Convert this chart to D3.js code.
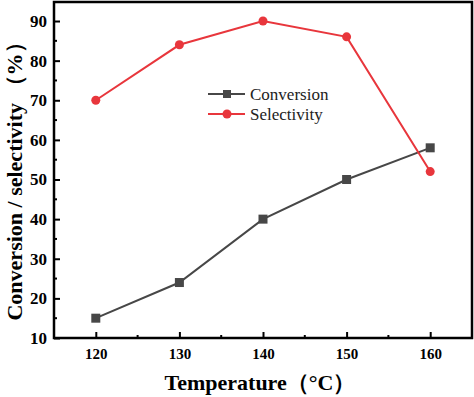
<!DOCTYPE html>
<html>
<head>
<meta charset="utf-8">
<script src="https://cdn.jsdelivr.net/npm/d3@7"></script>
<style>
  body { margin: 0; background: #fff; }
  svg { display: block; }
  text { font-family: "Liberation Serif", "Times New Roman", serif; }
</style>
</head>
<body>
<svg id="chart"></svg>
<script>
// data
var temperatures = [120, 130, 140, 150, 160];
var conversion = [15, 24, 40, 50, 58];
var selectivity = [70, 84, 90, 86, 52];
var seriesNames = ["Conversion", "Selectivity"];
var xTicks = [120, 130, 140, 150, 160];
var yTicks = [10, 20, 30, 40, 50, 60, 70, 80, 90];

var width = 474, height = 397;
var plotLeft = 54, plotRight = 472, plotTop = 2, plotBottom = 338;

var svg = d3.select("#chart").attr("width", width).attr("height", height);

var x = d3.scaleLinear().domain([115, 165]).range([plotLeft, plotRight]);
var y = d3.scaleLinear().domain([10, 94.8]).range([plotBottom, plotTop]);

// axes: ticks pointing inwards
var xAxis = d3.axisBottom(x).tickValues(xTicks).tickSize(-6).tickPadding(10).tickFormat(d3.format("d"));
var yAxis = d3.axisLeft(y).tickValues(yTicks).tickSize(-6).tickPadding(7).tickFormat(d3.format("d"));

var gx = svg.append("g").attr("transform", "translate(0," + plotBottom + ")").call(xAxis);
var gy = svg.append("g").attr("transform", "translate(" + plotLeft + ",0)").call(yAxis);

[gx, gy].forEach(function (g) {
  g.select(".domain").remove();
  g.selectAll(".tick line").attr("stroke", "#000").attr("stroke-width", 2);
  g.selectAll(".tick text")
    .attr("fill", "#000")
    .style("font-weight", "bold");
});
gx.selectAll(".tick text").style("font-size", "15px");
gy.selectAll(".tick text").style("font-size", "17px");

// minor ticks
var xMinor = [125, 135, 145, 155];
var yMinor = [15, 25, 35, 45, 55, 65, 75, 85];
svg.selectAll(".xminor").data(xMinor).enter().append("line")
  .attr("x1", function (d) { return x(d); }).attr("x2", function (d) { return x(d); })
  .attr("y1", plotBottom).attr("y2", plotBottom - 3)
  .attr("stroke", "#000").attr("stroke-width", 2);
svg.selectAll(".yminor").data(yMinor).enter().append("line")
  .attr("x1", plotLeft).attr("x2", plotLeft + 3)
  .attr("y1", function (d) { return y(d); }).attr("y2", function (d) { return y(d); })
  .attr("stroke", "#000").attr("stroke-width", 2);

// frame
svg.append("rect")
  .attr("x", plotLeft).attr("y", plotTop)
  .attr("width", plotRight - plotLeft).attr("height", plotBottom - plotTop)
  .attr("fill", "none").attr("stroke", "#000").attr("stroke-width", 2.5);

var colors = ["#474747", "#e8363c"];

var line = d3.line()
  .x(function (d, i) { return x(temperatures[i]); })
  .y(function (d) { return y(d); });

// conversion
svg.append("path").datum(conversion)
  .attr("d", line).attr("fill", "none")
  .attr("stroke", colors[0]).attr("stroke-width", 2);
svg.selectAll(".sq").data(conversion).enter().append("rect")
  .attr("x", function (d, i) { return x(temperatures[i]) - 4.5; })
  .attr("y", function (d) { return y(d) - 4.5; })
  .attr("width", 9).attr("height", 9)
  .attr("fill", colors[0]);

// selectivity
svg.append("path").datum(selectivity)
  .attr("d", line).attr("fill", "none")
  .attr("stroke", colors[1]).attr("stroke-width", 2);
svg.selectAll(".dot").data(selectivity).enter().append("circle")
  .attr("cx", function (d, i) { return x(temperatures[i]); })
  .attr("cy", function (d) { return y(d); })
  .attr("r", 4.5)
  .attr("fill", colors[1]);

// legend
var legend = svg.append("g").attr("transform", "translate(208,94)");
seriesNames.forEach(function (name, i) {
  var g = legend.append("g").attr("transform", "translate(0," + (i * 20) + ")");
  g.append("line").attr("x1", 0).attr("x2", 37).attr("y1", 0).attr("y2", 0)
    .attr("stroke", colors[i]).attr("stroke-width", 2);
  if (i === 0) {
    g.append("rect").attr("x", 15).attr("y", -4).attr("width", 8).attr("height", 8).attr("fill", colors[i]);
  } else {
    g.append("circle").attr("cx", 19).attr("cy", 0).attr("r", 4.5).attr("fill", colors[i]);
  }
  g.append("text").attr("x", 42).attr("y", 5.5)
    .style("font-size", "17px").attr("fill", "#222").text(name);
});

// axis titles
svg.append("text")
  .attr("x", (plotLeft + plotRight) / 2 - 3).attr("y", 390)
  .attr("text-anchor", "middle")
  .style("font-size", "22px").style("font-weight", "bold")
  .text("Temperature（°C）");

svg.append("text")
  .attr("transform", "translate(22,176) rotate(-90)")
  .attr("text-anchor", "middle")
  .style("font-size", "22px").style("font-weight", "bold")
  .text("Conversion / selectivity （%）");
</script>
</body>
</html>
